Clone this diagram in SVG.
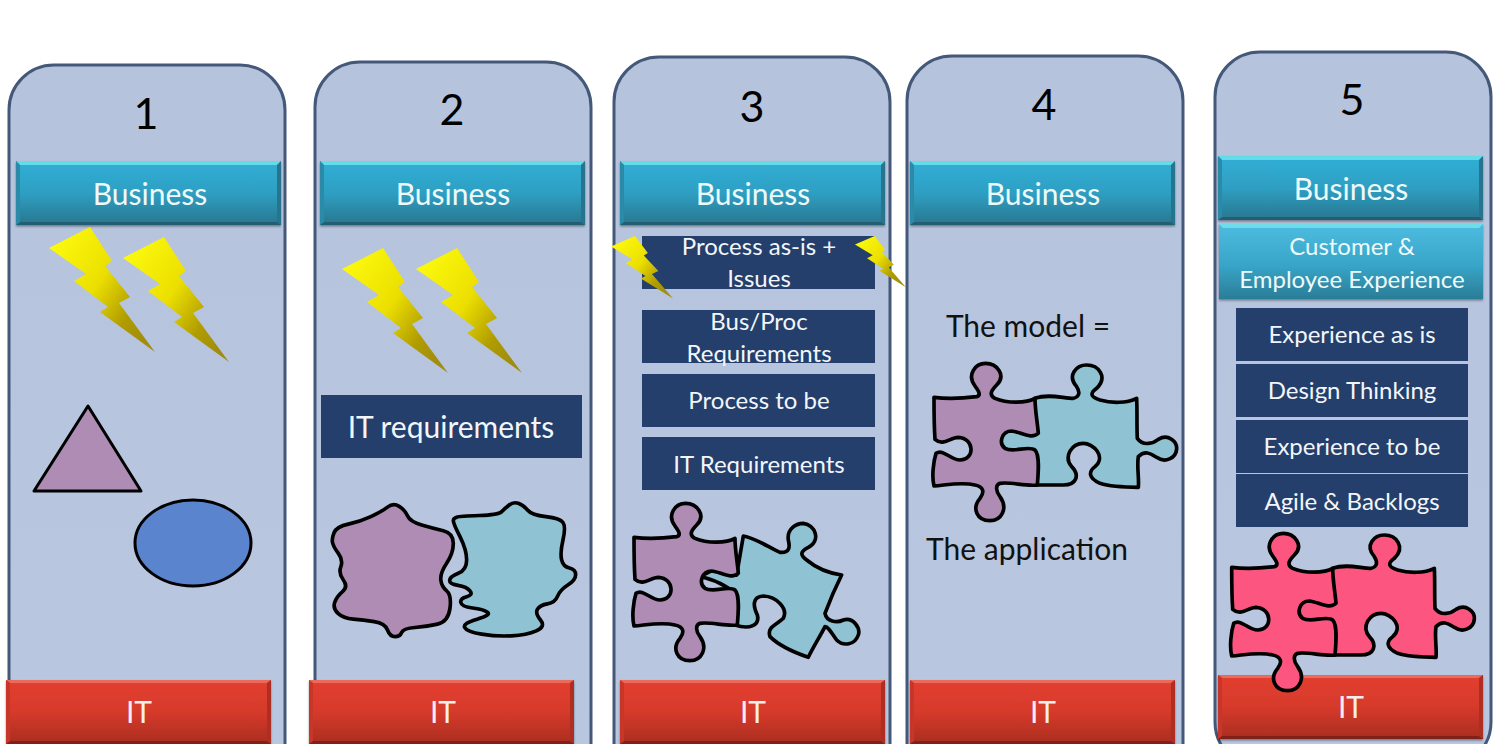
<svg xmlns="http://www.w3.org/2000/svg" xmlns:xlink="http://www.w3.org/1999/xlink" width="1493" height="744" viewBox="0 0 1493 744">
<style>
text{font-family:Lato,"Liberation Sans",sans-serif;text-anchor:middle}
.panel{fill:url(#panelGrad);stroke:#44587a;stroke-width:3}
.num{font-size:43px;fill:#000}
.bar{font-size:30px;fill:#eefafa}
.it{font-size:30px;fill:#f8eeee}
.navy{fill:#243f6b}
.nt{font-size:24px;fill:#f2f6fa}
.blk{font-size:30px;fill:#111}
.out{stroke:#000;stroke-width:3;stroke-linejoin:round}
.purple{fill:#ae8cb4}
.teal{fill:#8fc2d3}
.pink{fill:#fb5580}
</style>
<defs>
<linearGradient id="panelGrad" x1="0" y1="0" x2="0" y2="1"><stop offset="0" stop-color="#b6c3dc"/><stop offset="1" stop-color="#b9c7e0"/></linearGradient>
<linearGradient id="bizGrad" x1="0" y1="0" x2="0" y2="1"><stop offset="0" stop-color="#30aed6"/><stop offset=".5" stop-color="#2f9fc2"/><stop offset="1" stop-color="#29768f"/></linearGradient>
<linearGradient id="custGrad" x1="0" y1="0" x2="0" y2="1"><stop offset="0" stop-color="#4dbce0"/><stop offset=".55" stop-color="#38a5c8"/><stop offset="1" stop-color="#2b7d97"/></linearGradient>
<linearGradient id="itGrad" x1="0" y1="0" x2="0" y2="1"><stop offset="0" stop-color="#e33f30"/><stop offset=".5" stop-color="#d63a2b"/><stop offset="1" stop-color="#a92d20"/></linearGradient>
<linearGradient id="boltGrad" x1="0" y1="0" x2="1" y2=".8"><stop offset="0" stop-color="#ffff10"/><stop offset=".5" stop-color="#ecdf00"/><stop offset=".8" stop-color="#b09c00"/><stop offset="1" stop-color="#a08c10"/></linearGradient>
<filter id="sh" x="-5%" y="-10%" width="110%" height="130%"><feDropShadow dx="0" dy="1.5" stdDeviation="1.2" flood-color="#000" flood-opacity=".4"/></filter>
<g id="bizbar">
<rect width="265" height="64" fill="url(#bizGrad)" filter="url(#sh)"/>
<path d="M0 0H265L261 4H4Z" fill="#63dcea"/>
<path d="M0 64H265L261 61H4Z" fill="#235e73"/>
<path d="M0 0L4 4V61L0 64Z" fill="#2a8aa8"/><path d="M265 0L261 4V61L265 64Z" fill="#26748e"/>
</g>
<g id="itbar">
<rect width="265" height="64" fill="url(#itGrad)" filter="url(#sh)"/>
<path d="M0 0H265L261 3H4Z" fill="#ea6a5c"/>
<path d="M0 64H265L261 61H4Z" fill="#7f2118"/>
<path d="M0 0L4 3V61L0 64Z" fill="#c73629"/><path d="M265 0L261 3V61L265 64Z" fill="#ad2e22"/>
</g>
<path id="bolt" fill="url(#boltGrad)" d="M0 21L41 0L63 34L56 39L81 70L70 76L106 125L51 85L59 80L25 54L37 47Z"/>
<path id="pieceL" d="M42 142C85 148 130 145 170 140C185 135 175 122 165 108C140 75 165 40 197 40C230 40 260 75 230 105C215 120 205 135 225 145C260 160 320 160 345 145C345 180 352 215 355 250C335 270 300 245 275 243C245 243 235 280 255 295C280 310 325 285 345 300C360 315 355 370 352 405C320 410 270 395 240 400C225 405 228 425 240 440C265 475 245 512 210 512C170 512 155 475 180 445C195 425 190 410 165 405C125 395 80 405 42 408C35 380 40 335 48 310C70 295 90 330 120 330C165 330 165 265 115 262C90 262 70 290 45 268C42 225 42 180 42 142Z"/>
<path id="pieceR" d="M345 145C385 130 430 145 460 145C480 140 480 125 470 110C440 75 470 45 500 45C535 45 565 80 530 115C510 130 510 140 540 150C575 160 620 160 650 145C652 185 650 225 652 265C670 290 700 280 715 268C745 250 772 275 770 297C768 325 735 340 710 322C690 310 675 300 655 320C650 350 658 385 655 412C620 412 570 410 540 400C505 385 505 365 525 350C560 320 520 280 490 280C455 280 430 320 455 350C480 375 470 405 430 405L345 405L300 400L300 320L225 320L225 230L300 230Z"/>
</defs>
<rect width="1493" height="744" fill="#fff"/>

<g id="column-1">
<rect class="panel" x="9" y="65" width="276" height="760" rx="45"/>
<text class="num" x="146" y="129">1</text>
<use href="#bizbar" x="16" y="161"/><text class="bar" x="150" y="205">Business</text>
<use href="#bolt" x="49" y="227"/><use href="#bolt" x="123" y="237"/>
<path class="out purple" d="M88 406L141 491H34Z"/>
<ellipse class="out" cx="193" cy="543" rx="58" ry="43" fill="#5b84cf"/>
<use href="#itbar" x="6" y="680"/><text class="it" x="139" y="723">IT</text>
</g>

<g id="column-2">
<rect class="panel" x="315" y="62" width="276" height="760" rx="45"/>
<text class="num" x="452" y="125">2</text>
<use href="#bizbar" x="320" y="161"/><text class="bar" x="453" y="205">Business</text>
<use href="#bolt" x="342" y="248"/><use href="#bolt" x="416" y="248"/>
<rect class="navy" x="321" y="395" width="261" height="63"/>
<text x="451" y="438" font-size="30" fill="#f2f6fa">IT requirements</text>
<g transform="translate(310 480) scale(.3333)">
<path class="out purple" style="stroke-width:11" d="M72.5 157.5Q80 140 115 132.5Q150 125 182.5 110Q215 95 232.5 81.5Q250 68 267.5 79Q285 90 292.5 107.5Q300 125 335 135Q370 145 400 152.5Q430 160 430 190Q430 220 410 250Q390 280 392.5 300Q395 320 410 332.5Q425 345 420 385Q415 425 382.5 432.5Q350 440 315 442.5Q280 445 275 457.5Q270 470 255 470Q240 470 232.5 450Q225 430 192.5 425Q160 420 130 417.5Q100 415 84 400Q68 385 74 367.5Q80 350 97.5 335Q115 320 100 300Q85 280 92.5 260Q100 240 85 220Q70 200 67.5 187.5Q65 175 72.5 157.5Z"/>
<path class="out teal" style="stroke-width:11" d="M440 111.5Q450 108 507.5 106.5Q565 105 575 95Q585 85 597.5 75Q610 65 625 70Q640 75 652.5 90Q665 105 707.5 110Q750 115 759 127.5Q768 140 759 180Q750 220 755 240Q760 260 778.5 264Q797 268 797 284Q797 300 773.5 315Q750 330 742.5 349Q735 368 712.5 371.5Q690 375 682.5 387.5Q675 400 691.5 420Q708 440 679 452.5Q650 465 605 467.5Q560 470 515 462.5Q470 455 464 442.5Q458 430 501.5 417.5Q545 405 532.5 396.5Q520 388 487.5 384Q455 380 452.5 367.5Q450 355 470 350Q490 345 480 332.5Q470 320 444 316Q418 312 419 301Q420 290 445 280Q470 270 470 240Q470 210 450 170Q430 130 430 122Q430 115 440 111.5Z"/>
</g>
<use href="#itbar" x="309" y="680"/><text class="it" x="443" y="723">IT</text>
</g>

<g id="column-3">
<rect class="panel" x="614" y="57" width="276" height="760" rx="45"/>
<text class="num" x="752" y="122">3</text>
<use href="#bizbar" x="620" y="161"/><text class="bar" x="753" y="205">Business</text>
<rect class="navy" x="642" y="236" width="233" height="53"/>
<rect class="navy" x="642" y="310" width="233" height="53"/>
<rect class="navy" x="642" y="374" width="233" height="53"/>
<rect class="navy" x="642" y="437" width="233" height="53"/>
<text class="nt" x="759" y="255">Process as-is +</text><text class="nt" x="759" y="287">Issues</text>
<text class="nt" x="759" y="330">Bus/Proc</text><text class="nt" x="759" y="362">Requirements</text>
<text class="nt" x="759" y="409">Process to be</text>
<text class="nt" x="759" y="473">IT Requirements</text>
<use href="#bolt" transform="translate(611 236) scale(.585 .5)"/>
<use href="#bolt" transform="translate(855 236) scale(.48 .41)"/>
<g transform="translate(620 490) scale(.3333)">
<path class="out teal" style="stroke-width:11" d="M370 138C410 145 450 175 480 187C510 190 510 170 505 150C500 115 530 100 550 100C585 105 605 150 565 172C540 185 540 195 560 210C590 235 630 250 665 255C645 295 630 330 615 370C620 395 650 400 670 390C700 380 722 415 715 435C705 465 670 470 650 450C635 430 625 410 615 410C600 440 580 470 565 502C530 490 480 470 450 440C440 410 470 405 490 385C505 355 470 320 430 318C395 320 400 350 412 375C420 405 390 420 345 405L352 320C340 300 300 275 250 262L235 262L300 230L350 255Z"/>
<use href="#pieceL" class="out purple" style="stroke-width:11"/>
</g>
<use href="#itbar" x="620" y="680"/><text class="it" x="753" y="723">IT</text>
</g>

<g id="column-4">
<rect class="panel" x="907" y="56" width="276" height="760" rx="45"/>
<text class="num" x="1044" y="120">4</text>
<use href="#bizbar" x="910" y="161"/><text class="bar" x="1043" y="205">Business</text>
<text class="blk" x="1028" y="337">The model =</text>
<g transform="translate(920 350) scale(.3333)">
<use href="#pieceR" class="out teal" style="stroke-width:11"/>
<use href="#pieceL" class="out purple" style="stroke-width:11"/>
</g>
<text class="blk" x="1027" y="560">The application</text>
<use href="#itbar" x="910" y="680"/><text class="it" x="1043" y="723">IT</text>
</g>

<g id="column-5">
<rect class="panel" x="1215" y="52" width="276" height="715" rx="45"/>
<text class="num" x="1352" y="115">5</text>
<use href="#bizbar" x="1218" y="156"/><text class="bar" x="1351" y="200">Business</text>
<g>
<rect x="1219" y="224" width="264" height="75" fill="url(#custGrad)" filter="url(#sh)"/>
<path d="M1219 224H1483L1479 228H1223Z" fill="#6fdcec"/>
<text x="1352" y="255" font-size="24" fill="#eefafa">Customer &amp;</text>
<text x="1352" y="288" font-size="24" fill="#eefafa">Employee Experience</text>
</g>
<rect class="navy" x="1236" y="308" width="232" height="53"/>
<rect class="navy" x="1236" y="364" width="232" height="53"/>
<rect class="navy" x="1236" y="420" width="232" height="53"/>
<rect class="navy" x="1236" y="474" width="232" height="53"/>
<text class="nt" x="1352" y="343">Experience as is</text>
<text class="nt" x="1352" y="399">Design Thinking</text>
<text class="nt" x="1352" y="455">Experience to be</text>
<text class="nt" x="1352" y="510">Agile &amp; Backlogs</text>
<use href="#itbar" x="1218" y="675"/><text class="it" x="1351" y="718">IT</text>
<g transform="translate(1217.7 520) scale(.3333)">
<use href="#pieceR" class="out pink" style="stroke-width:11"/>
<use href="#pieceL" class="out pink" style="stroke-width:11"/>
</g>
</g>
</svg>
